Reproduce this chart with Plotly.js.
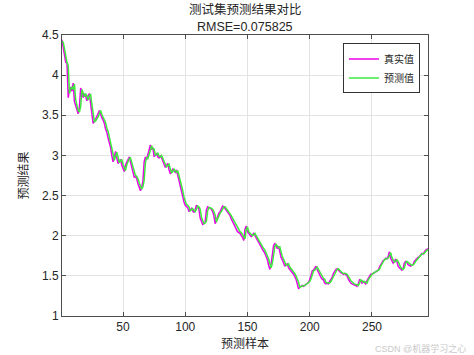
<!DOCTYPE html>
<html>
<head>
<meta charset="utf-8">
<script src="https://cdn.plot.ly/plotly-3.0.1.min.js"></script>
<style>html,body{margin:0;padding:0;background:#fff;}#chart{width:474px;height:355px;}</style>
</head>
<body>
<div id="chart"></div>
<script>
const titleLines = ['测试集预测结果对比', 'RMSE=0.075825'];
const xLabel = '预测样本';
const yLabel = '预测结果';
const seriesNames = ['真实值', '预测值'];
const xTicks = [50, 100, 150, 200, 250];
const yTicks = [1, 1.5, 2, 2.5, 3, 3.5, 4, 4.5];

const trueValues = [
4.44,4.35,4.22,4.16,4.15,3.72,3.82,3.85,3.80,3.90,
3.67,3.62,3.55,3.52,3.60,3.84,3.78,3.72,3.77,3.74,
3.68,3.75,3.77,3.63,3.52,3.40,3.42,3.45,3.47,3.52,
3.56,3.50,3.47,3.44,3.40,3.33,3.29,3.22,3.16,3.10,
3.00,2.92,2.98,3.05,2.97,2.90,2.92,2.95,2.88,2.83,
2.80,2.88,2.92,2.96,2.98,2.92,2.85,2.78,2.73,2.74,
2.71,2.65,2.60,2.56,2.60,2.68,2.92,2.98,2.95,3.02,
3.10,3.13,3.08,3.09,2.99,3.00,3.03,2.98,2.97,3.00,
2.97,2.93,2.88,2.85,2.88,2.90,2.82,2.77,2.80,2.83,
2.81,2.79,2.82,2.75,2.70,2.64,2.55,2.46,2.42,2.38,
2.37,2.35,2.30,2.33,2.34,2.31,2.29,2.33,2.38,2.36,
2.33,2.22,2.18,2.14,2.15,2.17,2.32,2.36,2.35,2.34,
2.33,2.30,2.25,2.15,2.20,2.26,2.28,2.30,2.33,2.37,
2.36,2.34,2.32,2.30,2.27,2.25,2.21,2.18,2.14,2.11,
2.08,2.05,2.04,2.03,2.00,1.98,1.94,2.08,2.12,2.05,
2.03,2.01,1.99,2.01,2.03,2.00,1.97,1.93,1.90,1.88,
1.86,1.83,1.81,1.78,1.74,1.70,1.63,1.58,1.65,1.80,
1.88,1.90,1.86,1.84,1.87,1.78,1.73,1.70,1.66,1.62,
1.64,1.65,1.60,1.58,1.57,1.55,1.52,1.49,1.46,1.40,
1.34,1.36,1.37,1.38,1.37,1.38,1.39,1.41,1.42,1.45,
1.52,1.56,1.57,1.60,1.62,1.58,1.54,1.50,1.48,1.46,
1.45,1.41,1.40,1.41,1.40,1.43,1.45,1.48,1.53,1.56,
1.58,1.59,1.57,1.55,1.54,1.53,1.52,1.53,1.52,1.50,
1.46,1.43,1.41,1.40,1.39,1.38,1.37,1.37,1.40,1.45,
1.44,1.41,1.43,1.42,1.40,1.44,1.47,1.50,1.52,1.52,
1.53,1.54,1.54,1.55,1.57,1.61,1.64,1.67,1.69,1.70,
1.72,1.71,1.74,1.80,1.72,1.69,1.66,1.68,1.71,1.68,
1.62,1.60,1.58,1.57,1.59,1.66,1.68,1.67,1.64,1.63,
1.62,1.63,1.64,1.68,1.70,1.72,1.73,1.74,1.76,1.78,
1.77,1.80,1.82,1.83,1.84
];

const predValues = [
4.42,4.41,4.33,4.21,4.16,4.12,3.77,3.83,3.85,3.82,
3.89,3.69,3.63,3.56,3.54,3.61,3.82,3.78,3.73,3.77,
3.74,3.69,3.75,3.76,3.64,3.53,3.42,3.43,3.45,3.48,
3.52,3.56,3.51,3.48,3.45,3.41,3.34,3.30,3.23,3.17,
3.11,3.02,2.94,2.98,3.04,2.98,2.91,2.93,2.95,2.89,
2.84,2.81,2.88,2.92,2.96,2.97,2.92,2.86,2.79,2.75,
2.74,2.71,2.66,2.61,2.58,2.61,2.69,2.91,2.97,2.96,
3.02,3.09,3.12,3.08,3.08,3.00,3.01,3.03,2.99,2.98,
3.00,2.97,2.93,2.89,2.86,2.88,2.89,2.83,2.78,2.80,
2.83,2.81,2.79,2.81,2.75,2.71,2.65,2.56,2.48,2.43,
2.39,2.38,2.36,2.31,2.33,2.34,2.31,2.30,2.33,2.37,
2.36,2.33,2.23,2.19,2.15,2.16,2.18,2.31,2.35,2.35,
2.34,2.33,2.30,2.26,2.17,2.21,2.26,2.28,2.30,2.33,
2.36,2.36,2.34,2.32,2.30,2.28,2.25,2.22,2.19,2.15,
2.12,2.09,2.06,2.05,2.04,2.01,1.99,1.96,2.08,2.11,
2.05,2.03,2.02,2.00,2.01,2.03,2.00,1.97,1.94,1.91,
1.89,1.87,1.84,1.82,1.79,1.75,1.71,1.65,1.60,1.66,
1.79,1.87,1.89,1.86,1.85,1.86,1.79,1.74,1.71,1.67,
1.63,1.64,1.65,1.61,1.59,1.58,1.56,1.53,1.50,1.47,
1.42,1.36,1.37,1.38,1.38,1.38,1.39,1.40,1.42,1.43,
1.46,1.52,1.56,1.57,1.60,1.61,1.58,1.55,1.51,1.49,
1.47,1.46,1.42,1.41,1.41,1.41,1.43,1.46,1.49,1.53,
1.56,1.58,1.59,1.57,1.56,1.54,1.53,1.53,1.53,1.52,
1.50,1.47,1.44,1.42,1.41,1.40,1.39,1.38,1.38,1.41,
1.45,1.44,1.42,1.43,1.42,1.41,1.45,1.48,1.51,1.52,
1.53,1.54,1.55,1.55,1.56,1.58,1.62,1.65,1.68,1.70,
1.71,1.72,1.72,1.75,1.79,1.73,1.70,1.67,1.68,1.70,
1.68,1.63,1.61,1.59,1.58,1.60,1.66,1.68,1.67,1.65,
1.64,1.63,1.64,1.65,1.68,1.70,1.72,1.73,1.75,1.77,
1.78,1.78,1.80,1.82,1.83
];

const sampleIndex = trueValues.map((_, i) => i + 1);

const cjk = '"Liberation Sans", Arial, "Noto Sans CJK SC", sans-serif';
const axisColor = '#4d4d4d';

const traces = [
  {x: sampleIndex, y: trueValues, type: 'scatter', mode: 'lines', name: seriesNames[0],
   line: {color: 'rgb(235,0,235)', width: 1.5}},
  {x: sampleIndex, y: predValues, type: 'scatter', mode: 'lines', name: seriesNames[1],
   line: {color: 'rgb(60,235,60)', width: 1.5}}
];

const layout = {
  width: 474, height: 355,
  margin: {l: 62, r: 46, t: 35, b: 39, pad: 0},
  paper_bgcolor: '#fff', plot_bgcolor: '#fff',
  font: {family: cjk, size: 12, color: '#262626'},
  showlegend: true,
  legend: {x: 0.978, y: 0.97, xanchor: 'right', yanchor: 'top', bgcolor: '#fff',
           bordercolor: '#333', borderwidth: 1, font: {family: cjk, size: 10, color: '#262626'},
           tracegroupgap: 0, itemwidth: 30},
  xaxis: {range: [1, 295], tickvals: xTicks, ticktext: xTicks.map(String),
          showgrid: true, gridcolor: '#e3e3e3', gridwidth: 1, zeroline: false,
          showline: true, linecolor: axisColor, linewidth: 1, mirror: 'ticks',
          ticks: 'inside', ticklen: 4, tickcolor: axisColor,
          tickfont: {size: 12, color: '#262626'},
          title: {text: xLabel, standoff: 6, font: {size: 12, color: '#262626'}}},
  yaxis: {range: [1, 4.5], tickvals: yTicks, ticktext: yTicks.map(String),
          showgrid: true, gridcolor: '#e3e3e3', gridwidth: 1, zeroline: false,
          showline: true, linecolor: axisColor, linewidth: 1, mirror: 'ticks',
          ticks: 'inside', ticklen: 4, tickcolor: axisColor,
          tickfont: {size: 12, color: '#262626'},
          title: {text: yLabel, standoff: 10, font: {size: 12, color: '#262626'}}},
  annotations: [
    {text: titleLines[0], xref: 'paper', yref: 'paper', x: 0.5, y: 1.089,
     xanchor: 'center', yanchor: 'middle', showarrow: false,
     font: {family: cjk, size: 12.5, color: '#262626'}},
    {text: titleLines[1], xref: 'paper', yref: 'paper', x: 0.5, y: 1.0285,
     xanchor: 'center', yanchor: 'middle', showarrow: false,
     font: {family: cjk, size: 12.5, color: '#262626'}},
    {text: 'CSDN @机器学习之心', xref: 'paper', yref: 'paper', x: 1.11, y: -0.115,
     xanchor: 'right', yanchor: 'middle', showarrow: false,
     font: {family: cjk, size: 9, color: '#c8c8c8'}}
  ]
};

Plotly.newPlot('chart', traces, layout, {displayModeBar: false, staticPlot: true});
</script>
</body>
</html>
